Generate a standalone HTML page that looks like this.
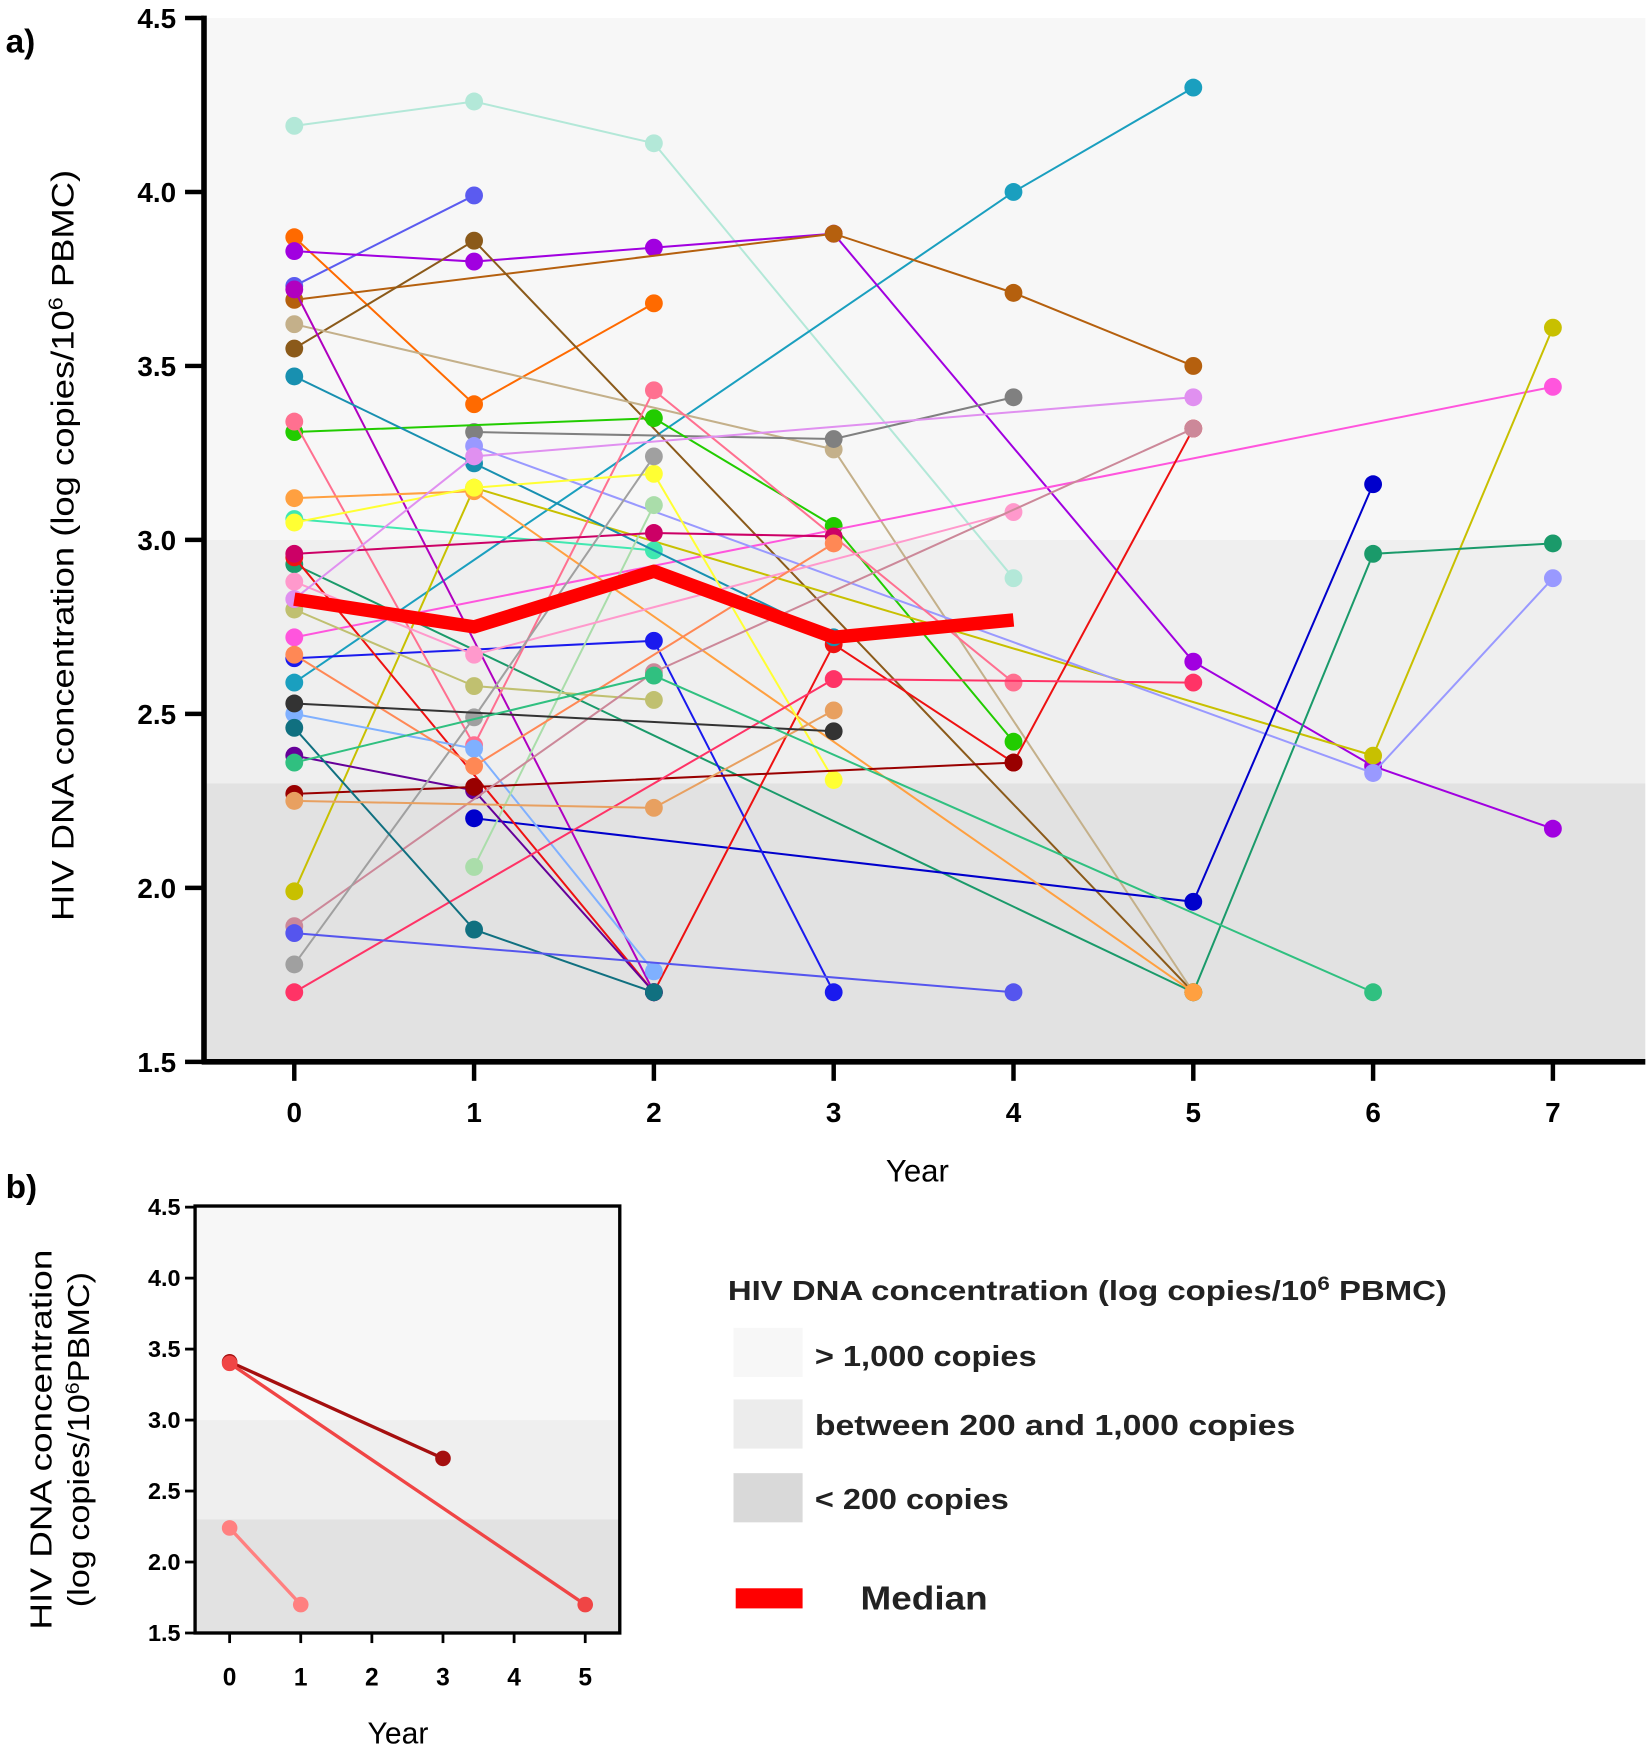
<!DOCTYPE html>
<html><head><meta charset="utf-8"><style>
html,body{margin:0;padding:0;background:#fff;}
svg{display:block;font-family:"Liberation Sans",sans-serif;}
</style></head><body>
<svg id="fig" width="1652" height="1747" viewBox="0 0 1482 1563" preserveAspectRatio="none" xmlns="http://www.w3.org/2000/svg">
<g id="pa"></g>
<g id="pb"></g>
<g id="legend">
 <text x="653" y="1163" font-size="25" font-weight="bold" fill="#222" textLength="645" lengthAdjust="spacingAndGlyphs">HIV DNA concentration (log copies/10<tspan dy="-9" font-size="17">6</tspan><tspan dy="9"> PBMC)</tspan></text>
 <rect x="658" y="1188" width="62" height="44" fill="#f7f7f7"/>
 <text x="731" y="1222" font-size="26" font-weight="bold" fill="#222" textLength="199" lengthAdjust="spacingAndGlyphs">&gt; 1,000 copies</text>
 <rect x="658" y="1252" width="62" height="44" fill="#ececec"/>
 <text x="731" y="1284" font-size="26" font-weight="bold" fill="#222" textLength="431" lengthAdjust="spacingAndGlyphs">between 200 and 1,000 copies</text>
 <rect x="658" y="1318" width="62" height="44" fill="#d9d9d9"/>
 <text x="731" y="1350" font-size="26" font-weight="bold" fill="#222" textLength="174" lengthAdjust="spacingAndGlyphs">&lt; 200 copies</text>
 <rect x="660" y="1421" width="60" height="18" fill="#ff0000"/>
 <text x="772" y="1440" font-size="30" font-weight="bold" fill="#222" textLength="114" lengthAdjust="spacingAndGlyphs">Median</text>
</g>
<text x="5" y="47" font-size="30" font-weight="bold">a)</text>
<text x="5" y="1072" font-size="30" font-weight="bold">b)</text>
</svg>
<script>
// ---- Panel A data ----
const yearsA = [0,1,2,3,4,5,6,7];
const yTicksA = [1.5,2.0,2.5,3.0,3.5,4.0,4.5];
const seriesColors = ["#b3e8d8","#1a9fbf","#5b5bf0","#ff6a00","#a100e0","#b5600e","#8b5a1a","#c4b08a","#b000c0","#808080","#22cc00","#ff55dd","#c8c000","#1a9a6a","#9999ff","#0000cc","#1a1aee","#ee1111","#ff7090","#ffa040","#40e8b0","#7fb0ff","#1890b0","#c0c070","#aaddaa","#ffff33","#cc0066","#660099","#990000","#ff99cc","#cc8899","#a0a0a0","#ff8855","#ff3366","#107080","#e8a060","#333333","#5555ee","#e090f0","#30c080"];
const seriesYears = [
 [0,1,2,4],[0,4,5],[0,1],[0,1,2],[0,1,2,3,5,6,7],[0,3,4,5],[0,1,5],[0,3,5],[0,2],[1,3,4],
 [0,2,3,4],[0,7],[0,1,6,7],[0,5,6,7],[1,6,7],[1,5,6],[0,2,3],[0,2,3,4,5],[0,1,2,4],[0,1,5],
 [0,2],[0,1,2],[0,1,3],[0,1,2],[1,2],[0,1,2,3],[0,2,3],[0,1,2],[0,1,4],[0,1,4],
 [0,2,5],[0,1,2],[0,1,3],[0,3,5],[0,1,2],[0,2,3],[0,3],[0,4],[0,1,5],[0,2,6]
];
const seriesValues = [
 [4.19,4.26,4.14,2.89],[2.59,4.00,4.30],[3.73,3.99],[3.87,3.39,3.68],[3.83,3.80,3.84,3.88,2.65,2.35,2.17],[3.69,3.88,3.71,3.50],[3.55,3.86,1.70],[3.62,3.26,1.70],[3.72,1.70],[3.31,3.29,3.41],
 [3.31,3.35,3.04,2.42],[2.72,3.44],[1.99,3.15,2.38,3.61],[2.93,1.70,2.96,2.99],[3.27,2.33,2.89],[2.20,1.96,3.16],[2.66,2.71,1.70],[2.95,1.70,2.70,2.36,3.32],[3.34,2.41,3.43,2.59],[3.12,3.14,1.70],
 [3.06,2.97],[2.50,2.40,1.76],[3.47,3.22,2.72],[2.80,2.58,2.54],[2.06,3.10],[3.05,3.15,3.19,2.31],[2.96,3.02,3.01],[2.38,2.28,1.70],[2.27,2.29,2.36],[2.88,2.67,3.08],
 [1.89,2.62,3.32],[1.78,2.49,3.24],[2.67,2.35,2.99],[1.70,2.60,2.59],[2.46,1.88,1.70],[2.25,2.23,2.51],[2.53,2.45],[1.87,1.70],[2.83,3.24,3.41],[2.36,2.61,1.70]
];
const medianYears = [0,1,2,3,4];
const medianValues = [2.83,2.75,2.91,2.72,2.77];
// ---- Panel B data ----
const yearsB = [0,1,2,3,4,5];
const yTicksB = [1.5,2.0,2.5,3.0,3.5,4.0,4.5];
const bColors = ["#a50f0f","#f04545","#ff8080"];
const bYears = [[0,3],[0,5],[0,1]];
const bValues = [[3.41,2.73],[3.40,1.70],[2.24,1.70]];

const NS="http://www.w3.org/2000/svg";
function mk(parent,tag,attrs){const e=document.createElementNS(NS,tag);for(const k in attrs)e.setAttribute(k,attrs[k]);parent.appendChild(e);return e;}

const ax=(v)=>264+v*161.3, ay=(v)=>950-(v-1.5)*311.3;
const pa=document.getElementById('pa');
let r;
r=mk(pa,'rect',{x:183,y:ay(4.5),width:1293,height:ay(3.0)-ay(4.5),fill:'#f7f7f7'});


r=mk(pa,'rect',{x:183,y:ay(3.0),width:1293,height:ay(2.3)-ay(3.0),fill:'#efefef'});


r=mk(pa,'rect',{x:183,y:ay(2.3),width:1293,height:950-ay(2.3),fill:'#e2e2e2'});


seriesValues.forEach((vals,i)=>{
 const g=mk(pa,'g',{});
 
 
 const pts=vals.map((v,j)=>ax(seriesYears[i][j])+','+ay(v)).join(' ');
 const pl=mk(g,'polyline',{points:pts,fill:'none',stroke:seriesColors[i],'stroke-width':1.8});
 
 
 vals.forEach((v,j)=>{const c=mk(g,'circle',{cx:ax(seriesYears[i][j]),cy:ay(v),r:8,fill:seriesColors[i]});
 
 });
});
const med=mk(pa,'polyline',{points:medianValues.map((v,j)=>ax(medianYears[j])+','+ay(v)).join(' '),fill:'none',stroke:'#ff0000','stroke-width':12,'stroke-linejoin':'round'});


let l=mk(pa,'path',{d:'M183,14 V952 M181,950 H1476',stroke:'#000','stroke-width':5,fill:'none'});


yTicksA.forEach(t=>{
 const tk=mk(pa,'line',{x1:166,x2:183,y1:ay(t),y2:ay(t),stroke:'#000','stroke-width':4});
 
 
 const tx=mk(pa,'text',{x:158,y:ay(t)+9,'text-anchor':'end','font-size':25,'font-weight':'bold'});tx.textContent=t.toFixed(1);
 
 
});
yearsA.forEach(t=>{
 const tk=mk(pa,'line',{x1:ax(t),x2:ax(t),y1:950,y2:967,stroke:'#000','stroke-width':4});
 
 
 const tx=mk(pa,'text',{x:ax(t),y:1004,'text-anchor':'middle','font-size':25,'font-weight':'bold'});tx.textContent=t;
 
 
});
let tt=mk(pa,'text',{x:823,y:1057,'text-anchor':'middle','font-size':28});tt.textContent='Year';


tt=mk(pa,'text',{transform:'translate(66,488) rotate(-90)','text-anchor':'middle','font-size':28,textLength:672,lengthAdjust:'spacingAndGlyphs'});
tt.innerHTML='HIV DNA concentration (log copies/10<tspan dy="-10" font-size="18">6</tspan><tspan dy="10"> PBMC)</tspan>';



const bx=(v)=>206+v*63.8, by=(v)=>1461-(v-1.5)*127;
const pb=document.getElementById('pb');
r=mk(pb,'rect',{x:175,y:by(4.5),width:381,height:by(3.0)-by(4.5),fill:'#f7f7f7'});


r=mk(pb,'rect',{x:175,y:by(3.0),width:381,height:by(2.3)-by(3.0),fill:'#efefef'});


r=mk(pb,'rect',{x:175,y:by(2.3),width:381,height:1461-by(2.3),fill:'#e2e2e2'});


bValues.forEach((vals,i)=>{
 const g=mk(pb,'g',{});
 
 
 const pl=mk(g,'polyline',{points:vals.map((v,j)=>bx(bYears[i][j])+','+by(v)).join(' '),fill:'none',stroke:bColors[i],'stroke-width':3});
 
 
 vals.forEach((v,j)=>{const c=mk(g,'circle',{cx:bx(bYears[i][j]),cy:by(v),r:7,fill:bColors[i]});
 
 });
});
l=mk(pb,'rect',{x:175,y:1079,width:381,height:382,fill:'none',stroke:'#000','stroke-width':3});


yTicksB.forEach(t=>{
 const tk=mk(pb,'line',{x1:166,x2:175,y1:by(t),y2:by(t),stroke:'#000','stroke-width':2.5});
 
 
 const tx=mk(pb,'text',{x:162,y:by(t)+7,'text-anchor':'end','font-size':21,'font-weight':'bold'});tx.textContent=t.toFixed(1);
 
 
});
yearsB.forEach(t=>{
 const tk=mk(pb,'line',{x1:bx(t),x2:bx(t),y1:1461,y2:1470,stroke:'#000','stroke-width':2.5});
 
 
 const tx=mk(pb,'text',{x:bx(t),y:1508,'text-anchor':'middle','font-size':22,'font-weight':'bold'});tx.textContent=t;
 
 
});
tt=mk(pb,'text',{x:357,y:1560,'text-anchor':'middle','font-size':27});tt.textContent='Year';


tt=mk(pb,'text',{transform:'translate(46,1288) rotate(-90)','text-anchor':'middle','font-size':27,textLength:340,lengthAdjust:'spacingAndGlyphs'});tt.textContent='HIV DNA concentration';


tt=mk(pb,'text',{transform:'translate(80,1288) rotate(-90)','text-anchor':'middle','font-size':27,textLength:300,lengthAdjust:'spacingAndGlyphs'});
tt.innerHTML='(log copies/10<tspan dy="-9" font-size="17">6</tspan><tspan dy="9">PBMC)</tspan>';


</script>
</body></html>
